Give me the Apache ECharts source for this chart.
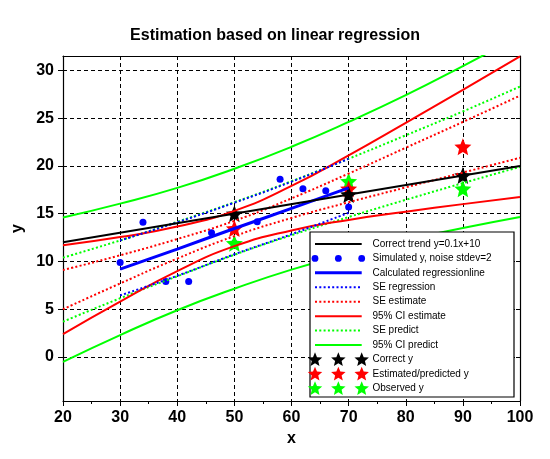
<!DOCTYPE html>
<html>
<head>
<meta charset="utf-8">
<script src="https://cdn.jsdelivr.net/npm/echarts@6/dist/echarts.min.js"></script>
<style>
html,body{margin:0;padding:0;background:#fff;}
#chart{width:550px;height:459px;}
</style>
</head>
<body>
<div id="chart"></div>
<script>
// ---- data ----
const trendX = [20, 100];
const trendY = [12, 20];

const simX = [30, 34, 38, 42, 46, 50, 54, 58, 62, 66, 70];
const simY = [9.9, 14.1, 7.9, 7.9, 13.0, 11.9, 14.15, 18.6, 17.6, 17.4, 15.7];

const regX = [30, 40, 50, 60, 70];
const regY = [9.2, 11.3, 13.45, 15.55, 17.7];
const seRegUpper = [12.2, 14.1, 16.15, 18.35, 20.75];
const seRegLower = [6.45, 8.5, 10.75, 12.85, 15.1];

const xGrid = [20, 30, 40, 50, 60, 70, 80, 90, 100];
const seEstUpper  = [9.1, 10.65, 12.35, 14.25, 16.6, 19.2, 21.9, 24.6, 27.35];
const seEstLower  = [5.0, 7.7, 10.3, 12.65, 14.55, 16.2, 17.75, 19.3, 20.85];
const sePredUpper = [10.4, 12.2, 14.15, 16.2, 18.4, 20.75, 23.2, 25.7, 28.3];
const sePredLower = [3.7, 6.15, 8.45, 10.7, 12.75, 14.65, 16.45, 18.2, 19.9];
const ciEstUpper  = [11.7, 12.55, 13.65, 15.3, 17.9, 21.1, 24.5, 27.95, 31.45];
const ciEstLower  = [2.4, 5.8, 9.0, 11.6, 13.25, 14.35, 15.2, 16.0, 16.75];
const ciPredUpper = [14.6, 16.05, 17.7, 19.7, 22.0, 24.6, 27.4, 30.45, 33.6];
const ciPredLower = [-0.5, 2.3, 4.9, 7.15, 9.15, 10.8, 12.25, 13.5, 14.65];

const starX = [50, 70, 90];
const correctY = [15, 17, 19];
const estimatedY = [13.45, 17.6, 22.0];
const observedY = [11.9, 18.4, 17.6];

const xTicks = [20, 30, 40, 50, 60, 70, 80, 90, 100];
const yTicks = [0, 5, 10, 15, 20, 25, 30];

const legendLabels = [
  'Correct trend y=0.1x+10',
  'Simulated y, noise stdev=2',
  'Calculated regressionline',
  'SE regression',
  'SE estimate',
  '95% CI estimate',
  'SE predict',
  '95% CI predict',
  'Correct y',
  'Estimated/predicted y',
  'Observed y'
];

// ---- styles ----
const BLACK = '#000000', BLUE = '#0000ff', RED = '#ff0000', GREEN = '#00ff00';
const DOT = [2, 2.3];
const FONT = 'Liberation Sans, Arial, Helvetica, sans-serif';

function zip(xs, ys) { return xs.map((x, i) => [x, ys[i]]); }

function starPoints(cx, cy, R, r) {
  const pts = [];
  for (let i = 0; i < 10; i++) {
    const a = -Math.PI / 2 + i * Math.PI / 5;
    const rad = (i % 2 === 0) ? R : r;
    pts.push([cx + rad * Math.cos(a), cy + rad * Math.sin(a)]);
  }
  return pts;
}
function starPath() {
  const p = starPoints(10, 10, 10, 4.5);
  return 'path://M' + p.map(q => q[0].toFixed(3) + ',' + q[1].toFixed(3)).join('L') + 'Z';
}
const STAR = starPath();

function lineSeries(name, xs, ys, color, width, dash) {
  return {
    name: name, type: 'line', data: zip(xs, ys),
    showSymbol: false, symbol: 'none', smooth: true,
    lineStyle: { color: color, width: width, type: dash || 'solid', cap: 'butt', opacity: 1 },
    silent: true, animation: false, clip: true
  };
}
function scatterSeries(name, xs, ys, symbol, size, color) {
  return {
    name: name, type: 'scatter', data: zip(xs, ys),
    symbol: symbol, symbolSize: size,
    itemStyle: { color: color, opacity: 1 },
    silent: true, animation: false
  };
}

const series = [
  lineSeries('95% CI predict', xGrid, ciPredUpper, GREEN, 2),
  lineSeries('95% CI predict', xGrid, ciPredLower, GREEN, 2),
  lineSeries('SE predict', xGrid, sePredUpper, GREEN, 2, DOT),
  lineSeries('SE predict', xGrid, sePredLower, GREEN, 2, DOT),
  lineSeries('95% CI estimate', xGrid, ciEstUpper, RED, 2),
  lineSeries('95% CI estimate', xGrid, ciEstLower, RED, 2),
  lineSeries('SE estimate', xGrid, seEstUpper, RED, 2, DOT),
  lineSeries('SE estimate', xGrid, seEstLower, RED, 2, DOT),
  lineSeries('SE regression', regX, seRegUpper, BLUE, 2, DOT),
  lineSeries('SE regression', regX, seRegLower, BLUE, 2, DOT),
  lineSeries('Calculated regressionline', regX, regY, BLUE, 3),
  Object.assign(lineSeries('Correct trend', trendX, trendY, BLACK, 2), { smooth: false }),
  scatterSeries('Simulated y', simX, simY, 'circle', 7, BLUE),
  scatterSeries('Observed y', starX, observedY, STAR, 17, GREEN),
  scatterSeries('Estimated y', starX, estimatedY, STAR, 17, RED),
  scatterSeries('Correct y', starX, correctY, STAR, 17, BLACK)
];

// ---- legend drawn as graphic ----
const legendStyles = [
  { kind: 'line', color: BLACK, width: 2 },
  { kind: 'dots', color: BLUE },
  { kind: 'line', color: BLUE, width: 3 },
  { kind: 'line', color: BLUE, width: 2, dash: DOT },
  { kind: 'line', color: RED, width: 2, dash: DOT },
  { kind: 'line', color: RED, width: 2 },
  { kind: 'line', color: GREEN, width: 2, dash: DOT },
  { kind: 'line', color: GREEN, width: 2 },
  { kind: 'stars', color: BLACK },
  { kind: 'stars', color: RED },
  { kind: 'stars', color: GREEN }
];
const LG = { x: 310, y: 232, w: 204, h: 165, first: 244, step: 14.43, x0: 315, x1: 361.7, tx: 372.5 };
const graphics = [{
  type: 'rect', shape: { x: LG.x, y: LG.y, width: LG.w, height: LG.h },
  style: { fill: '#fff', stroke: '#000', lineWidth: 1.2 }, z: 100, silent: true
}];
legendLabels.forEach((lab, i) => {
  const cy = LG.first + i * LG.step;
  const st = legendStyles[i];
  if (st.kind === 'line') {
    graphics.push({
      type: 'line', shape: { x1: LG.x0, y1: cy, x2: LG.x1, y2: cy },
      style: { stroke: st.color, lineWidth: st.width, lineDash: st.dash || null, lineCap: 'butt' },
      z: 101, silent: true
    });
  } else {
    const xm = (LG.x0 + LG.x1) / 2;
    [LG.x0, xm, LG.x1].forEach(cx => {
      if (st.kind === 'dots') {
        graphics.push({ type: 'circle', shape: { cx: cx, cy: cy, r: 3.4 }, style: { fill: st.color }, z: 101, silent: true });
      } else {
        graphics.push({ type: 'polygon', shape: { points: starPoints(cx, cy + 0.5, 7.6, 3.4) }, style: { fill: st.color }, z: 102, silent: true });
      }
    });
  }
  graphics.push({
    type: 'text', x: LG.tx, y: cy, z: 101, silent: true,
    style: { text: lab, fill: '#000', font: '10px ' + FONT, textVerticalAlign: 'middle', verticalAlign: 'middle', textAlign: 'left' }
  });
});

const chart = echarts.init(document.getElementById('chart'), null, { renderer: 'canvas' });
const axisText = { color: '#000', fontSize: 16, fontWeight: 'bold', fontFamily: FONT };
chart.setOption({
  backgroundColor: '#ffffff',
  animation: false,
  title: {
    text: 'Estimation based on linear regression', left: 'center', top: 28, padding: 0,
    textStyle: { color: '#000', fontSize: 16, fontWeight: 'bold', fontFamily: FONT }
  },
  grid: { left: 63, right: 30, top: 56, bottom: 58, containLabel: false },
  xAxis: [{
    type: 'value', min: 20, max: 100, interval: 10, position: 'bottom',
    name: 'x', nameLocation: 'middle', nameGap: 26,
    nameTextStyle: { color: '#000', fontSize: 16, fontWeight: 'bold', fontFamily: FONT },
    axisLine: { show: true, onZero: false, lineStyle: { color: '#000', width: 1.2 } },
    axisTick: { show: true, inside: false, length: 5, lineStyle: { color: '#000', width: 1 } },
    minorTick: { show: true, splitNumber: 2, length: 3, lineStyle: { color: '#000', width: 1 } },
    axisLabel: Object.assign({ margin: 9, formatter: v => (xTicks.indexOf(v) >= 0 ? String(v) : '') }, axisText),
    splitLine: { show: true, lineStyle: { color: '#000', width: 1, type: [4, 3] } }
  }, {
    type: 'value', min: 20, max: 100, interval: 10, position: 'top',
    axisLine: { show: true, onZero: false, lineStyle: { color: '#000', width: 1.2 } },
    axisTick: { show: true, inside: true, length: 4, lineStyle: { color: '#000', width: 1 } },
    axisLabel: { show: false }, splitLine: { show: false }
  }],
  yAxis: [{
    type: 'value', min: -4.6, max: 31.5, splitNumber: 7, position: 'left',
    name: 'y', nameLocation: 'middle', nameGap: 33, nameRotate: 90,
    nameTextStyle: { color: '#000', fontSize: 16, fontWeight: 'bold', fontFamily: FONT },
    axisLine: { show: true, onZero: false, lineStyle: { color: '#000', width: 1.2 } },
    axisTick: { show: true, inside: false, length: 5, lineStyle: { color: '#000', width: 1 } },
    axisLabel: Object.assign({ margin: 9, showMinLabel: false, showMaxLabel: false,
      formatter: v => (yTicks.indexOf(v) >= 0 ? String(v) : '') }, axisText),
    splitLine: { show: true, lineStyle: { color: '#000', width: 1, type: [4, 3] } }
  }, {
    type: 'value', min: -4.6, max: 31.5, splitNumber: 7, position: 'right',
    axisLine: { show: true, onZero: false, lineStyle: { color: '#000', width: 1.2 } },
    axisTick: { show: true, inside: true, length: 4, lineStyle: { color: '#000', width: 1 } },
    axisLabel: { show: false }, splitLine: { show: false }
  }],
  series: series,
  graphic: graphics
});
</script>
</body>
</html>
